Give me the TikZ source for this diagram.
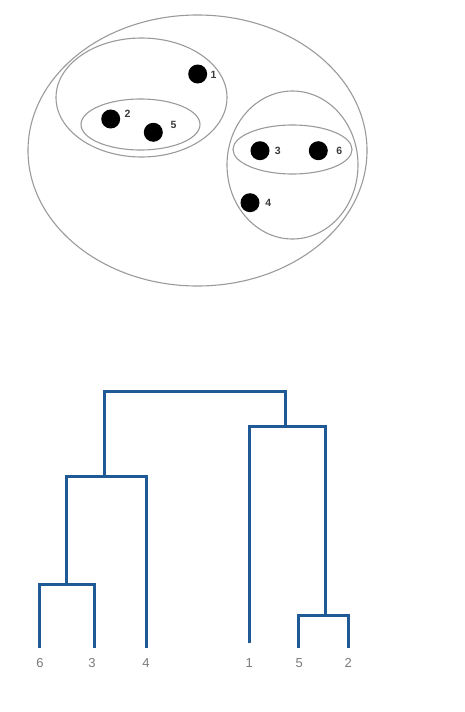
\documentclass[tikz,border=0pt]{standalone}
\usepackage{fontspec}
\setmainfont{Liberation Sans}
\definecolor{ringgray}{HTML}{9A9A9A}
\definecolor{dendro}{HTML}{1F5A96}
\definecolor{leafgray}{HTML}{7A7A7A}
\definecolor{dotlabel}{HTML}{3A3A3A}
\tikzset{
  ring/.style={draw=ringgray, line width=1.1pt},
  pt/.style={circle, fill=black, inner sep=0pt, minimum size=19pt},
  ptlab/.style={font=\fontsize{10.5}{11}\selectfont\bfseries, text=dotlabel, inner sep=0pt},
  branch/.style={draw=dendro, line width=3pt, line cap=butt, line join=miter},
  leaflab/.style={font=\fontsize{13}{14}\selectfont, text=leafgray, inner sep=0pt},
}
\begin{document}
\begin{tikzpicture}[x=1pt,y=-1pt]
\useasboundingbox (0,0) rectangle (464,712);
% cluster rings
\draw[ring] (197.5,150.5) ellipse [x radius=169.5, y radius=135.5];
\draw[ring] (141.5,97.5) ellipse [x radius=85.5, y radius=59.5];
\draw[ring] (140.5,124.5) ellipse [x radius=59.5, y radius=25.5];
\draw[ring] (292.5,165) ellipse [x radius=65.5, y radius=74];
\draw[ring] (292.5,149.5) ellipse [x radius=59.5, y radius=24.5];
% points
\node[pt] (p1) at (197.7,74) {};
\node[pt] (p2) at (110.7,119) {};
\node[pt] (p5) at (153.3,132.3) {};
\node[pt] (p3) at (260,150.7) {};
\node[pt] (p6) at (318.3,150.7) {};
\node[pt] (p4) at (250,202.7) {};
\node[ptlab] (l1) at (213.5,75) {1};
\node[ptlab] (l2) at (127.5,114) {2};
\node[ptlab] (l5) at (173.5,125) {5};
\node[ptlab] (l3) at (277.7,150.7) {3};
\node[ptlab] (l6) at (339.3,150.7) {6};
\node[ptlab] (l4) at (268.3,203) {4};
% dendrogram
\coordinate (r) at (195,391.7);
\coordinate (a) at (104.3,476.7);
\coordinate (b) at (285.7,426);
\coordinate (c) at (66.7,584.7);
\coordinate (d) at (325.7,615.7);
\coordinate (e6) at (39,647.7);
\coordinate (e3) at (94,647.7);
\coordinate (e4) at (146,647.7);
\coordinate (e1) at (249.3,643.3);
\coordinate (e5) at (298.7,647.7);
\coordinate (e2) at (348.3,647.7);
\draw[branch] (a) |- (r -| b) -- (b);
\draw[branch] (e4) |- (a) -| (c);
\draw[branch] (e6) |- (c) -| (e3);
\draw[branch] (e1) |- (b) -| (d);
\draw[branch] (e5) |- (d) -| (e2);
\node[leaflab] (t6) at (40,663.3) {6};
\node[leaflab] (t3) at (92,663.3) {3};
\node[leaflab] (t4) at (146,663.3) {4};
\node[leaflab] (t1) at (249.3,663.3) {1};
\node[leaflab] (t5) at (299.3,663.3) {5};
\node[leaflab] (t2) at (348.3,663.3) {2};
\end{tikzpicture}
\end{document}
